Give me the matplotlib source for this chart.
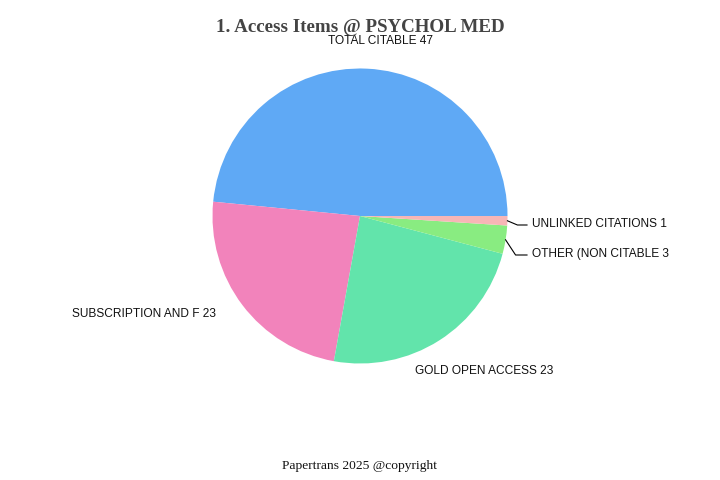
import matplotlib
matplotlib.use("Agg")
import matplotlib.pyplot as plt
import numpy as np

categories = ["TOTAL CITABLE", "SUBSCRIPTION AND F", "GOLD OPEN ACCESS",
              "OTHER (NON CITABLE", "UNLINKED CITATIONS"]
values = [47, 23, 23, 3, 1]
colors = ["#5FA9F5", "#F283BB", "#62E4AB", "#89EC81", "#F7B6B6"]

title = "1. Access Items @ PSYCHOL MED"
footer = "Papertrans 2025 @copyright"

W, H = 720, 480
fig = plt.figure(figsize=(7.2, 4.8), dpi=100)
ax = fig.add_axes([0, 0, 1, 1])

cx, cy, R = 360, 216, 147.5
# y axis inverted, so counterclock=False draws counter-clockwise on screen
wedges, _ = ax.pie(values, colors=colors, center=(cx, cy), radius=R,
                   startangle=0, counterclock=False, frame=True,
                   wedgeprops=dict(linewidth=0))
ax.set_xlim(0, W)
ax.set_ylim(H, 0)
ax.set_aspect("equal")
ax.axis("off")

lab_font = dict(family="Liberation Sans", fontsize=8.6, color="#111111")
texts = [f"{c} {v}" for c, v in zip(categories, values)]

# label layout (pixel positions) : (x, y, ha)
layout = [(381, 41, "center"), (216, 314, "right"), (415, 371, "left"),
          (532, 254, "left"), (532, 224, "left")]

for i, (w, t, (lx, ly, ha)) in enumerate(zip(wedges, texts, layout)):
    ax.text(lx, ly, t, ha=ha, va="center", **lab_font)
    if i >= 3:
        th = np.deg2rad((w.theta1 + w.theta2) / 2)
        sx, sy = cx + R * np.cos(th), cy + R * np.sin(th)
        ex = lx - 5
        mx = sx + 10
        ax.plot([sx, mx, ex], [sy, ly + 1, ly + 1], color="black", lw=0.8)

ax.text(360, 27, title, ha="center", va="center", family="Liberation Serif",
        fontsize=13.7, fontweight="bold", color="#444444")
ax.text(360, 466, footer, ha="center", va="center", family="Liberation Serif",
        fontsize=9.7, color="#111111")

fig.savefig("out.png", dpi=100)
